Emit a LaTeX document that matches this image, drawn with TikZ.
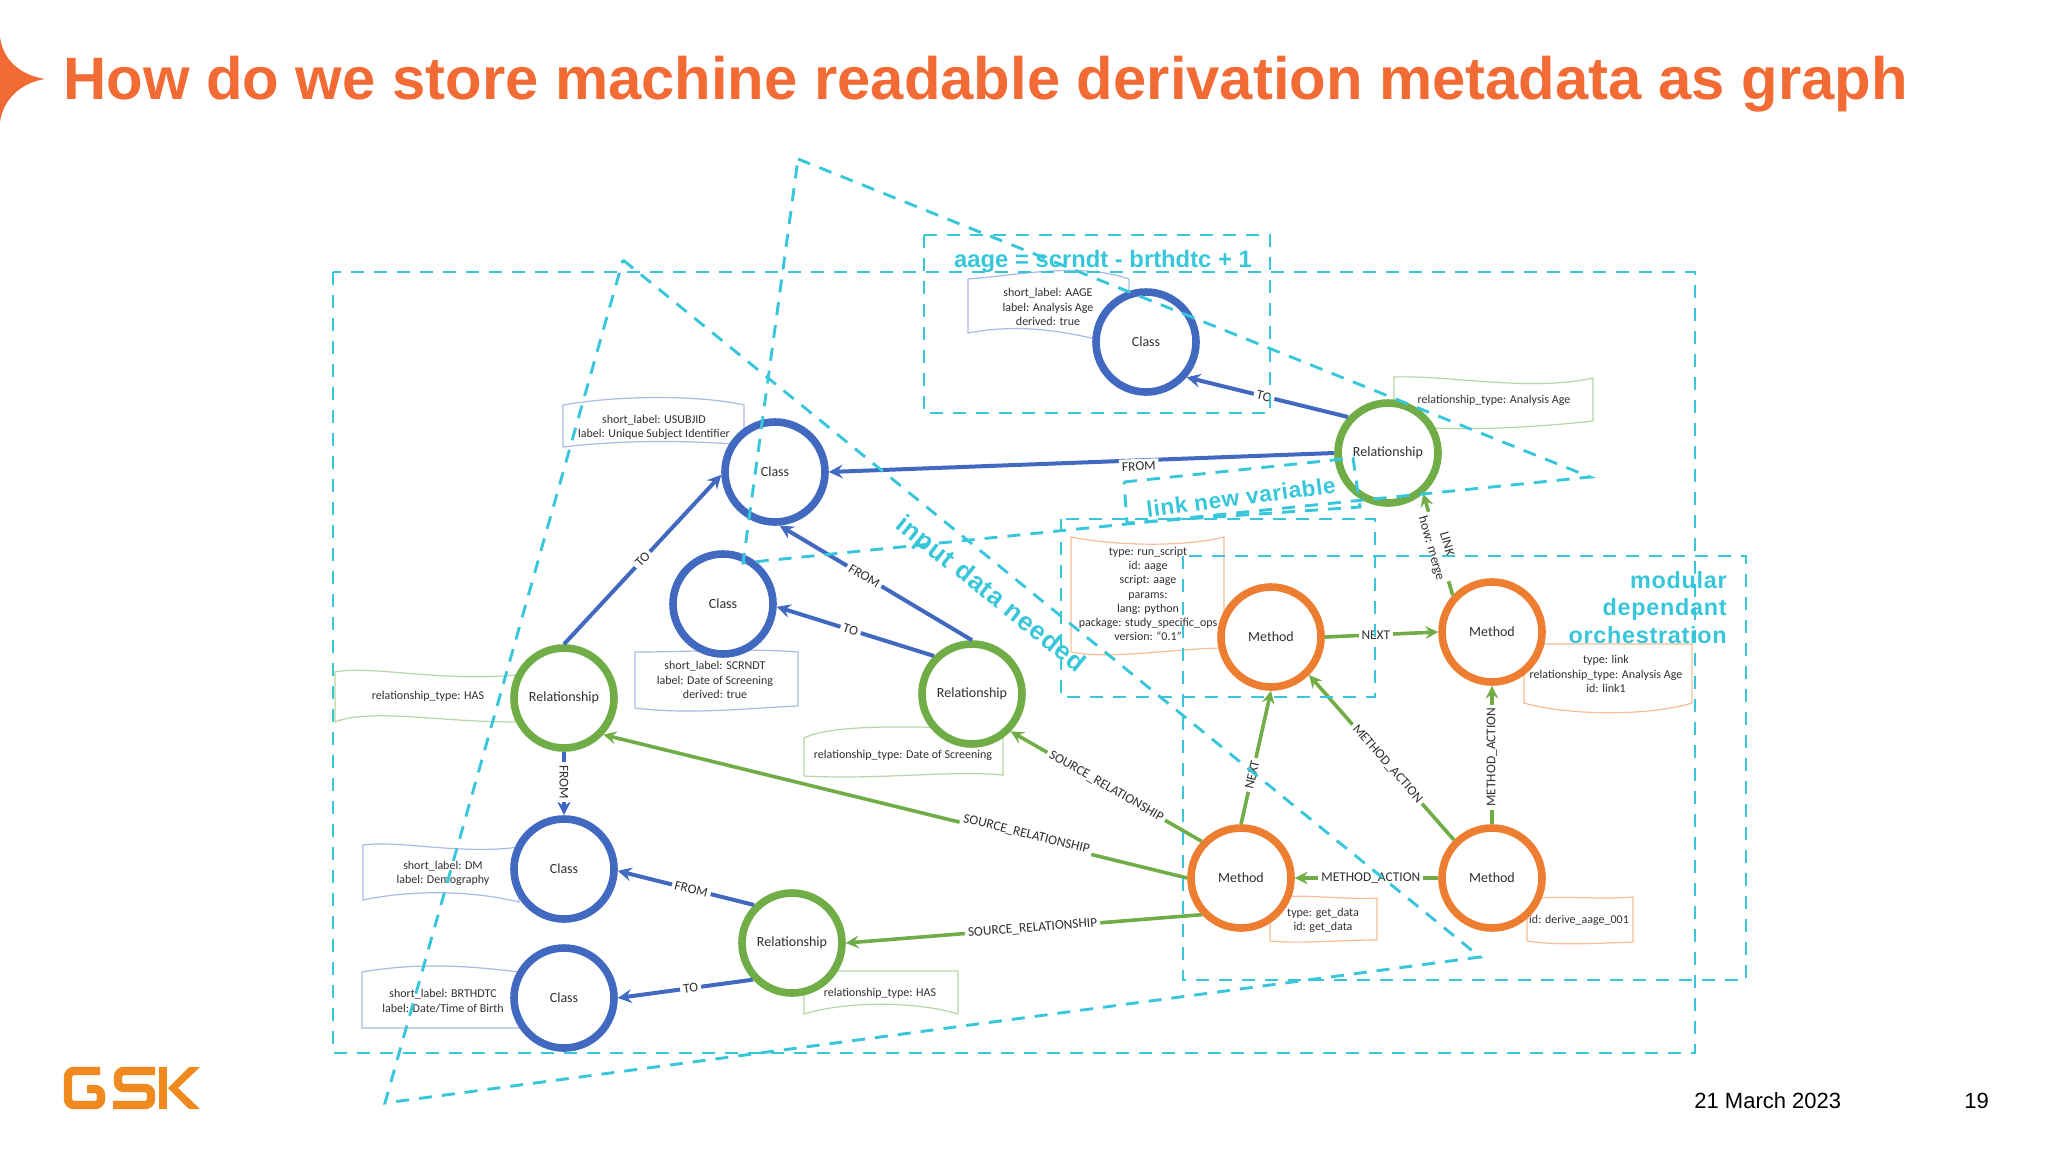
\documentclass[tikz,border=0pt]{standalone}
\usepackage{fontspec}
\setmainfont{Liberation Sans}
\newfontfamily\notefont{Carlito}
\definecolor{gskorange}{HTML}{F26A34}
\definecolor{logoorange}{HTML}{F08A1E}
\definecolor{guidecyan}{HTML}{38C6DA}
\definecolor{classblue}{HTML}{4169C0}
\definecolor{relgreen}{HTML}{70AD47}
\definecolor{methodorange}{HTML}{ED7D31}
\definecolor{inkgrey}{HTML}{303030}
\tikzset{
  base/.style={circle, fill=white, line width=3.8pt, minimum size=50pt, inner sep=0pt, text=inkgrey,
    font=\notefont\fontsize{7}{8.5}\selectfont},
  class/.style={base, draw=classblue},
  relation/.style={base, draw=relgreen},
  method/.style={base, draw=methodorange},
  blueedge/.style={->, draw=classblue, line width=2pt},
  greenedge/.style={->, draw=relgreen, line width=1.8pt},
  elabel/.style={fill=white, inner sep=1.5pt, text=inkgrey, align=center,
    font=\notefont\fontsize{6.7}{8}\selectfont},
  notetext/.style={inner sep=0pt, text=inkgrey, align=center,
    font=\notefont\fontsize{6}{7.15}\selectfont},
  noteblue/.style={draw=classblue!45, line width=0.6pt, fill=white},
  notegreen/.style={draw=relgreen!50, line width=0.6pt, fill=white},
  noteorange/.style={draw=methodorange!50, line width=0.6pt, fill=white},
  guide/.style={draw=guidecyan, line width=1.45pt, dash pattern=on 6.5pt off 5pt},
  guidetext/.style={inner sep=0pt, text=guidecyan, align=right}
}
\begin{document}
\begin{tikzpicture}[>=stealth, x=0.5pt, y=-0.5pt]
  \useasboundingbox (0,0) rectangle (2048,1152);

  % Slide furniture
  \fill[gskorange] (0,37) .. controls (3,60) and (20,75) .. (45,79)
    .. controls (20,83) and (3,100) .. (0,122) -- cycle;
  \node[anchor=base west, inner sep=0pt, text=gskorange, font=\bfseries\fontsize{29.9}{32}\selectfont]
    (title) at (63,99) {How do we store machine readable derivation metadata as graph};
  \node[anchor=base west, inner sep=0pt, font=\fontsize{11}{13}\selectfont] (date) at (1694,1108) {21 March 2023};
  \node[anchor=base west, inner sep=0pt, font=\fontsize{11}{13}\selectfont] (page) at (1964,1108) {19};

  % Logo
  \begin{scope}[draw=logoorange, line width=4.2pt, rounded corners=3pt]
    \draw (100,1071) -- (68,1071) -- (68,1105) -- (101,1105) -- (101,1089) -- (87,1089);
    \draw (155,1071) -- (118,1071) -- (118,1088) -- (151,1088) -- (151,1105) -- (113,1105);
    \draw[rounded corners=0pt] (163,1067) -- (163,1109);
  \end{scope}
  \fill[logoorange] (189,1067) -- (200,1067) -- (178,1088) -- (200,1109) -- (189,1109) -- (168,1088) -- cycle;

  % Notes behind the nodes
  \draw[noteblue] (563,405) .. controls (620,395) and (700,395) .. (744,405) -- (744,445)
    .. controls (690,440) and (620,440) .. (563,447) -- cycle;
  \draw[noteblue] (635,652) .. controls (690,652) and (750,648) .. (798,652) -- (798,706)
    .. controls (750,708) and (690,715) .. (635,708) -- cycle;
  \draw[notegreen] (335,672) .. controls (370,665) and (440,682) .. (515,675) -- (515,722)
    .. controls (440,722) and (370,708) .. (335,722) -- cycle;
  \draw[notegreen] (804,738) .. controls (830,725) and (900,725) .. (1003,730) -- (1003,775)
    .. controls (950,770) and (880,780) .. (804,776) -- cycle;
  \draw[noteblue] (363,845) .. controls (400,840) and (460,855) .. (519,847) -- (519,902)
    .. controls (470,890) and (410,890) .. (363,900) -- cycle;
  \draw[noteblue] (362,972) .. controls (420,962) and (470,966) .. (519,972) -- (519,1028) -- (362,1028) -- cycle;
  \draw[notegreen] (804,971) -- (958,971) -- (958,1014) .. controls (920,1002) and (850,1000) .. (804,1014) -- cycle;
  \draw[noteblue] (968,279) .. controls (1020,275) and (1080,262) .. (1129,279) -- (1129,320) -- (1100,340)
    .. controls (1050,328) and (1010,325) .. (968,333) -- cycle;
  \draw[notegreen] (1394,377) .. controls (1450,375) and (1530,392) .. (1593,378) -- (1593,421)
    .. controls (1530,428) and (1450,432) .. (1394,425) -- cycle;
  \draw[noteorange] (1071,537) .. controls (1110,545) and (1180,548) .. (1224,537) -- (1224,648)
    .. controls (1180,648) and (1110,660) .. (1071,652) -- cycle;
  \draw[noteorange] (1524,644) -- (1692,644) -- (1692,703) .. controls (1650,716) and (1570,716) .. (1524,703) -- cycle;
  \draw[noteorange] (1270,898) .. controls (1300,893) and (1340,900) .. (1377,898) -- (1377,940)
    .. controls (1340,940) and (1300,944) .. (1270,941) -- cycle;
  \draw[noteorange] (1527,899) .. controls (1560,895) and (1600,900) .. (1633,897) -- (1633,942)
    .. controls (1600,943) and (1560,946) .. (1527,941) -- cycle;

  \node[notetext] (noteUsubjid) at (654,427) {short\_label: USUBJID\\label: Unique Subject Identifier};
  \node[notetext] (noteScrndt) at (715,680) {short\_label: SCRNDT\\label: Date of Screening\\derived: true};
  \node[notetext] (noteHasA) at (428,696) {relationship\_type: HAS};
  \node[notetext] (noteDate) at (903,755) {relationship\_type: Date of Screening};
  \node[notetext] (noteDm) at (443,873) {short\_label: DM\\label: Demography};
  \node[notetext] (noteBrthdtc) at (443,1001) {short\_label: BRTHDTC\\label: Date/Time of Birth};
  \node[notetext] (noteHasB) at (880,993) {relationship\_type: HAS};
  \node[notetext] (noteAage) at (1048,307) {short\_label: AAGE\\label: Analysis Age\\derived: true};
  \node[notetext] (noteAnalysis) at (1494,400) {relationship\_type: Analysis Age};
  \node[notetext] (noteScript) at (1148,594) {type: run\_script\\id: aage\\script: aage\\params:\\lang: python\\package: study\_specific\_ops\\version: “0.1”};
  \node[notetext] (noteLink) at (1606,674) {type: link\\relationship\_type: Analysis Age\\id: link1};
  \node[notetext] (noteGet) at (1323,920) {type: get\_data\\id: get\_data};
  \node[notetext] (noteDerive) at (1579,920) {id: derive\_aage\_001};

  % Nodes
  \node[class] (clsUsubjid) at (775,472) {Class};
  \node[class] (clsScrndt) at (723,604) {Class};
  \node[class] (clsDm) at (564,869) {Class};
  \node[class] (clsBrthdtc) at (564,998) {Class};
  \node[class] (clsAage) at (1146,342) {Class};
  \node[relation] (relHasA) at (564,698) {Relationship};
  \node[relation] (relDate) at (972,694) {Relationship};
  \node[relation] (relHasB) at (792,943) {Relationship};
  \node[relation] (relAnalysis) at (1388,453) {Relationship};
  \node[method] (mthScript) at (1271,637) {Method};
  \node[method] (mthLink) at (1492,632) {Method};
  \node[method] (mthGet) at (1241,878) {Method};
  \node[method] (mthDerive) at (1492,878) {Method};

  % Blue connectors
  \draw[blueedge] (relHasA.90) -- node[elabel, sloped, pos=0.5] {TO} (clsUsubjid.183);
  \draw[blueedge] (relDate.90) -- node[elabel, sloped, pos=0.56] {FROM} (clsUsubjid.275);
  \draw[blueedge] (relDate.135) -- node[elabel, sloped, pos=0.53] {TO} (clsScrndt.357);
  \draw[blueedge] (relHasA.270) -- node[elabel, rotate=-90, pos=0.48] {FROM} (clsDm.90);
  \draw[blueedge] (relHasB.135) -- node[elabel, sloped, pos=0.46] {FROM} (clsDm.358);
  \draw[blueedge] (relHasB.223) -- node[elabel, sloped, pos=0.46] {TO} (clsBrthdtc.0);
  \draw[blueedge] (relAnalysis.138) -- node[elabel, sloped, pos=0.52] {TO} (clsAage.319);
  \draw[blueedge] (relAnalysis.180) -- node[elabel, sloped, pos=0.387, yshift=-3pt] {FROM} (clsUsubjid.0);

  % Green connectors
  \draw[greenedge] (mthGet.180) -- node[elabel, sloped, pos=0.277, yshift=2pt] {SOURCE\_RELATIONSHIP} (relHasA.317);
  \draw[greenedge] (mthGet.137) -- node[elabel, sloped, pos=0.5] {SOURCE\_RELATIONSHIP} (relDate.316);
  \draw[greenedge] (mthGet.223) -- node[elabel, sloped, pos=0.475] {SOURCE\_RELATIONSHIP} (relHasB.0);
  \draw[greenedge] (mthGet.90) -- node[elabel, sloped, pos=0.37] {NEXT} (mthScript.270);
  \draw[greenedge] (mthDerive.180) -- node[elabel, pos=0.47] {METHOD\_ACTION} (mthGet.0);
  \draw[greenedge] (mthDerive.135) -- node[elabel, sloped, pos=0.46] {METHOD\_ACTION} (mthScript.315);
  \draw[greenedge] (mthDerive.90) -- node[elabel, rotate=90, pos=0.485] {METHOD\_ACTION} (mthLink.270);
  \draw[greenedge] (mthScript.0) -- node[elabel, pos=0.45] {NEXT} (mthLink.180);
  \draw[greenedge] (mthLink.137) -- node[elabel, sloped, pos=0.48] {LINK\\how: merge} (relAnalysis.311);

  % Cyan annotations on top
  \draw[guide] (333,272) rectangle (1695,1053);
  \draw[guide] (924,235) rectangle (1270,413);
  \draw[guide] (1061,519) rectangle (1375,697);
  \draw[guide] (1183,556) rectangle (1746,980);
  \draw[guide] (798,159) -- (1590,477) -- (743,563) -- cycle;
  \draw[guide] (623,260) -- (1480,957) -- (385,1103) -- cycle;
  \draw[guide] (1124,482) -- (1353,458) -- (1360,507) -- (1127,523) -- cycle;

  \node[guidetext, font=\bfseries\fontsize{11.9}{15}\selectfont] (eqn) at (1103,261) {aage = scrndt - brthdtc + 1};
  \node[guidetext, rotate=7.3, font=\bfseries\addfontfeature{LetterSpace=3}\fontsize{11.3}{15}\selectfont] (linkVar) at (1241,497) {link new variable};
  \node[guidetext, rotate=-38.7, font=\bfseries\addfontfeature{LetterSpace=3}\fontsize{13}{15}\selectfont] (inputData) at (990,595) {input data needed};
  \node[guidetext, anchor=north east, font=\bfseries\addfontfeature{LetterSpace=3}\fontsize{11.7}{13.7}\selectfont] (orchestration) at (1727,571) {modular\\dependant\\orchestration};
\end{tikzpicture}
\end{document}
